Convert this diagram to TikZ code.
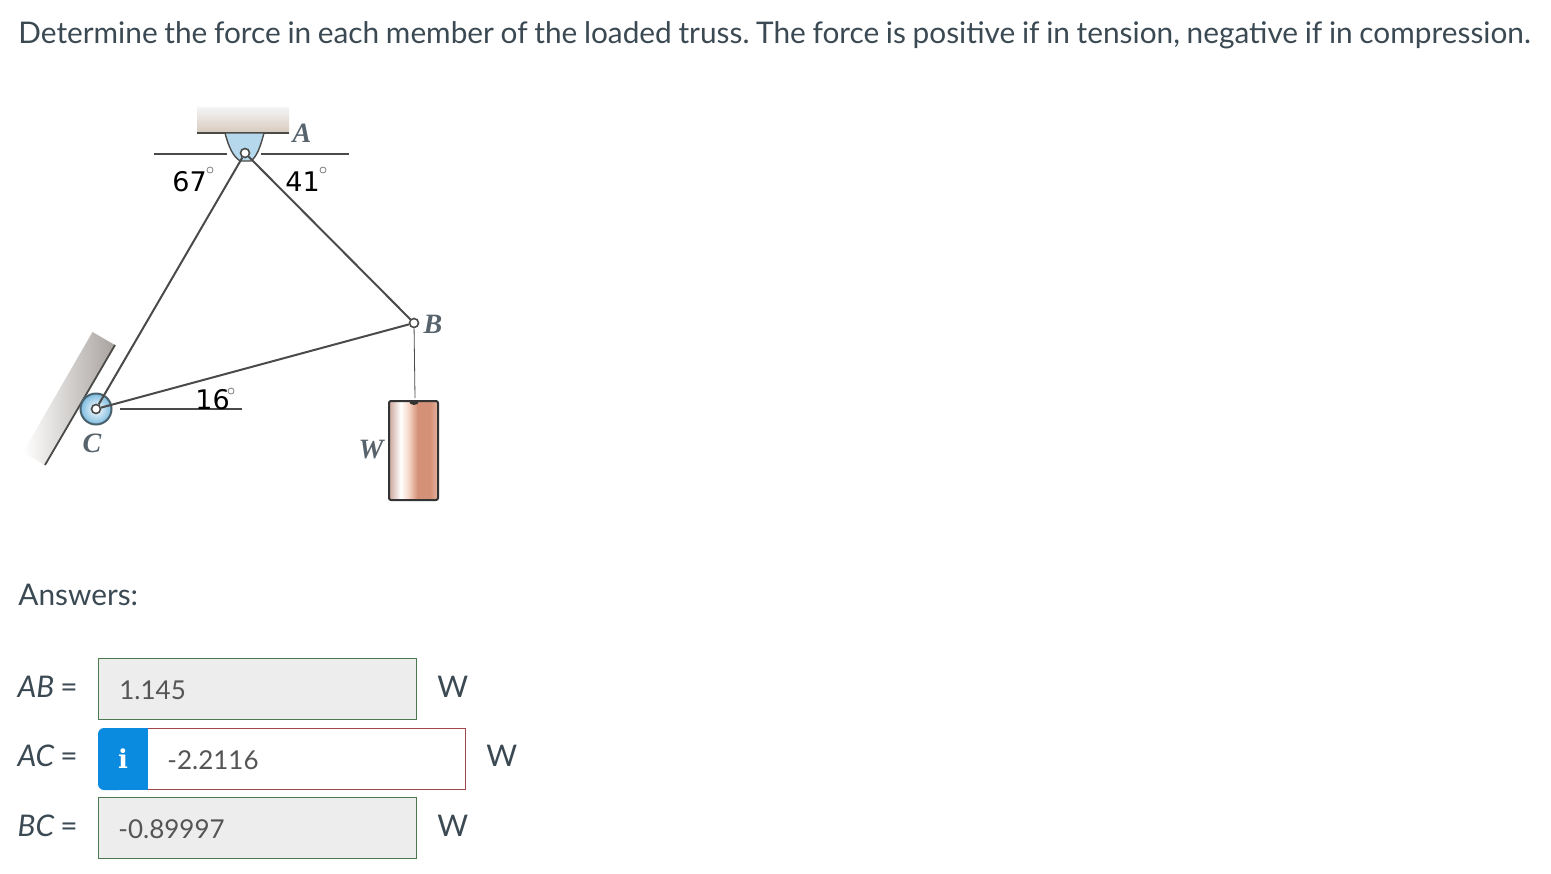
\documentclass[tikz,border=0pt]{standalone}
\usepackage{fontspec}
\setmainfont[WordSpace=0.87]{Lato}
\newfontfamily\figsans{DejaVu Sans}
\newfontfamily\figserif{Liberation Serif}
\newfontfamily\iconserif{DejaVu Serif}
\usetikzlibrary{positioning}
\frenchspacing

\definecolor{inktext}{HTML}{3B4953}
\definecolor{valtext}{HTML}{555555}
\definecolor{okgreen}{HTML}{4B7A50}
\definecolor{badred}{HTML}{A0484C}
\definecolor{infoblue}{HTML}{0A8BE0}
\definecolor{boxgrey}{HTML}{EDEDED}
\definecolor{jointblue}{HTML}{B5D8EC}
\definecolor{rimblue}{HTML}{7CBBE0}
\definecolor{barline}{HTML}{4A4A48}
\definecolor{wallgrey}{HTML}{A8A29E}

\pgfdeclarehorizontalshading{weightshade}{100bp}{
  rgb(0bp)=(0.79,0.65,0.60);
  rgb(25bp)=(0.79,0.65,0.60);
  rgb(37bp)=(1,1,1);
  rgb(45bp)=(0.96,0.84,0.78);
  rgb(54bp)=(0.83,0.57,0.47);
  rgb(67bp)=(0.83,0.57,0.47);
  rgb(75bp)=(0.90,0.70,0.62);
  rgb(100bp)=(0.90,0.70,0.62)}

\tikzset{
  bodytext/.style={inner sep=0pt,text=inktext,font=\fontsize{14.9}{18}\selectfont},
  vartext/.style={bodytext,anchor=base east,font=\fontsize{14.9}{18}\selectfont\itshape},
  valuetext/.style={inner sep=0pt,text=valtext,anchor=base west,font=\fontsize{13}{18}\selectfont},
  answerbox/.style={draw=okgreen,fill=boxgrey,line width=0.5pt},
  member/.style={draw=barline,line width=1pt},
  refline/.style={draw=barline,line width=0.7pt},
  pin/.style={circle,draw=barline,fill=white,line width=0.8pt,inner sep=0pt,minimum size=4.5pt},
  anglelabel/.style={inner sep=0pt,anchor=base west,font=\figsans\fontsize{13.5}{16}\selectfont},
  deg/.style={circle,draw=gray,line width=0.4pt,inner sep=0pt,minimum size=3pt},
  letter/.style={inner sep=0pt,text=inktext!85,font=\figserif\bfseries\itshape\fontsize{14}{16}\selectfont}
}

\begin{document}
\begin{tikzpicture}[x=0.5pt,y=-0.5pt]
    \useasboundingbox (0,0) rectangle (1551,873);

    % heading
    \node[bodytext,anchor=base west] (title) at (18,43) {Determine the force in each member of the loaded truss. The force is positive if in tension, negative if in compression.};

    % ceiling support at A
    \shade[top color=black!4,bottom color=black!35!brown!30!white] (197,107) rectangle (289,132);
    \draw[line width=0.9pt,barline] (197,133) -- (289,133);
    \draw[fill=jointblue,draw=barline,line width=0.7pt] (225,133) -- (264,133) .. controls (260,148) and (257,156) .. (251,161) -- (240,161) .. controls (233,156) and (229,148) .. (225,133) -- cycle;
    \draw[refline] (154,154) -- (227,154);
    \draw[refline] (261,154) -- (349,154);

    % sloped wall at C
    \shade[left color=white,right color=wallgrey,rotate around={-30:(115,345)}] (89,345) rectangle (115,484);
    \draw[line width=0.9pt,barline] (115,345) -- (45,465);

    % pulley at C
    \draw[refline] (120,409) -- (242,409);
    \shade[inner color=white,outer color=rimblue] (96,409) circle (15.5);
    \draw[draw=black!65!cyan,line width=1pt] (96,409) circle (15.5);

    % joints
    \node[pin] (A) at (245,153) {};
    \node[pin] (B) at (414,323) {};
    \node[pin] (C) at (96,409) {};

    % weight
    \draw[draw=black!80,line width=1pt,shading=weightshade,rounded corners=1pt] (389,401) rectangle (438,500);
    \fill[black!80] (409,401) arc (180:0:5 and 4) -- cycle;
    \coordinate (hook) at (415,398);

    % members
    \draw[member] (A) -- (C);
    \draw[member] (A) -- (B);
    \draw[member] (C) -- (B);
    \draw[refline,line width=0.4pt] (B) -- (hook);

    % figure labels
    \node[letter] (labelA) at (302,133) {A};
    \node[letter] (labelB) at (433,324) {B};
    \node[letter] (labelC) at (92,443) {C};
    \node[letter] (labelW) at (371,450) {W};
    \node[anglelabel] (ang67) at (172,191) {67};
    \node[deg] (deg67) at (210,170) {};
    \node[anglelabel] (ang41) at (285,191) {41};
    \node[deg] (deg41) at (323,170) {};
    \node[anglelabel] (ang16) at (195,409) {16};
    \node[deg] (deg16) at (231,391) {};

    % answers
    \node[bodytext,anchor=base west] (answers) at (18,605) {Answers:};

    \draw[answerbox] (98.5,658.5) rectangle (416.5,719.5);
    \node[vartext] (ab) at (78,697) {AB {\upshape =}};
    \node[valuetext] (abval) at (119,699) {1.145};
    \node[bodytext,anchor=base west] (abunit) at (437,697) {W};

    \draw[draw=badred,fill=white,line width=0.5pt] (120,728.5) -- (465.5,728.5) -- (465.5,789.5) -- (120,789.5);
    \fill[infoblue,rounded corners=3pt] (98,728) rectangle (125,790);
    \fill[infoblue] (110,728) rectangle (147.5,790);
    \node[vartext] (ac) at (78,766) {AC {\upshape =}};
    \node[inner sep=0pt,text=white,font=\iconserif\bfseries\fontsize{13}{16}\selectfont] (info) at (123,759) {i};
    \node[valuetext] (acval) at (167,769) {-2.2116};
    \node[bodytext,anchor=base west] (acunit) at (486,766) {W};

    \draw[answerbox] (98.5,797.5) rectangle (416.5,858.5);
    \node[vartext] (bc) at (78,836) {BC {\upshape =}};
    \node[valuetext] (bcval) at (118,838) {-0.89997};
    \node[bodytext,anchor=base west] (bcunit) at (437,836) {W};
\end{tikzpicture}
\end{document}
